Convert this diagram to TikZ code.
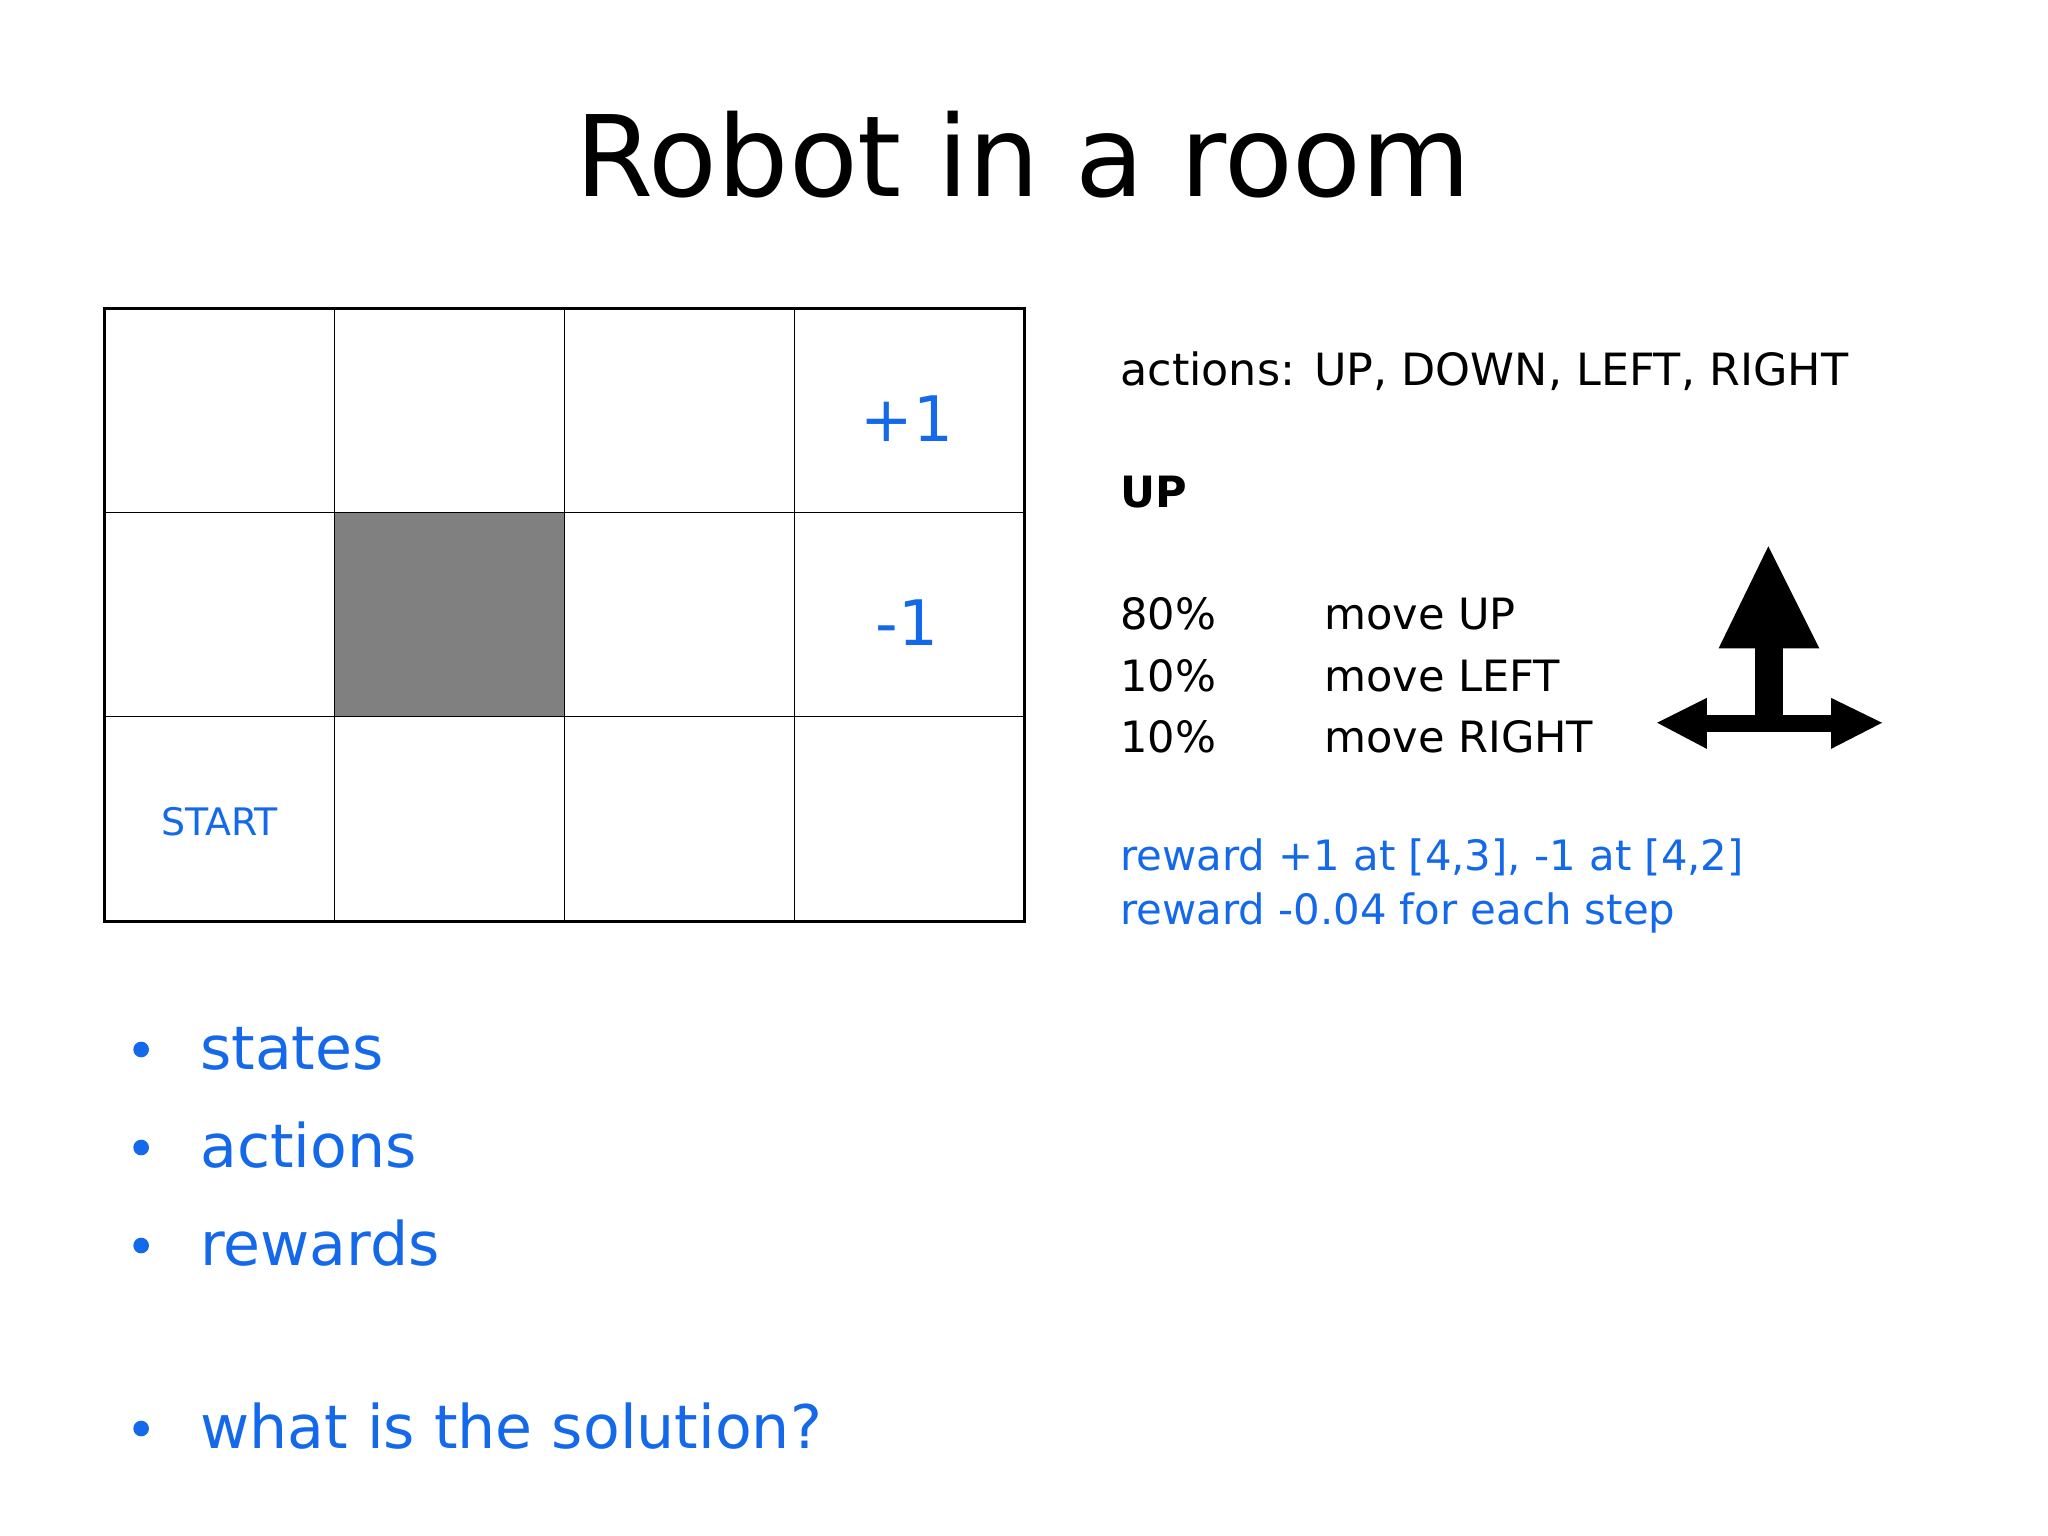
\documentclass[tikz,border=0pt]{standalone}
\usepackage{fontspec}
\setmainfont{DejaVu Sans}
\begin{document}
\begin{tikzpicture}[x=1pt,y=-1pt,
  txt/.style={anchor=base west,inner sep=0pt,font=\fontsize{33}{38}\selectfont},
  bul/.style={anchor=base west,inner sep=0pt,font=\fontsize{46}{52}\selectfont,text=myblue}]
\definecolor{myblue}{RGB}{20,105,235}
\useasboundingbox (0,0) rectangle (1567,1175);
\fill[white] (0,0) rectangle (1567,1175);
\node[anchor=base,inner sep=0pt,font=\fontsize{86}{96}\selectfont] (title) at (783,150) {Robot in a room};
% grid
\fill[black!50] (256,392) rectangle (432,548);
\foreach \x in {256,432,608}{\draw[line width=0.8pt] (\x,236) -- (\x,705);}
\foreach \y in {392,548}{\draw[line width=0.8pt] (80,\y) -- (784,\y);}
\draw[line width=1.8pt] (80,236) rectangle (784,705);
\node[anchor=base,inner sep=0pt,font=\fontsize{48}{56}\selectfont,text=myblue] (p1) at (694,338) {+1};
\node[anchor=base,inner sep=0pt,font=\fontsize{48}{56}\selectfont,text=myblue] (m1) at (694,494) {-1};
\node[anchor=base,inner sep=0pt,font=\fontsize{29}{36}\selectfont,text=myblue] (start) at (168,639) {START};
% right text
\node[txt,font=\fontsize{34}{38}\selectfont] (act) at (857,295) {actions: UP, DOWN, LEFT, RIGHT};
\node[txt,font=\fontsize{33}{40}\bfseries\selectfont] (up) at (857,388) {UP};
\node[txt] (a1) at (857,482) {80\%};
\node[txt] (a2) at (857,529) {10\%};
\node[txt] (a3) at (857,576) {10\%};
\node[txt] (b1) at (1013,482) {move UP};
\node[txt] (b2) at (1013,529) {move LEFT};
\node[txt] (b3) at (1013,576) {move RIGHT};
\node[txt,font=\fontsize{32}{38}\selectfont,text=myblue] (r1) at (857,666) {reward +1 at [4,3], -1 at [4,2]};
\node[txt,font=\fontsize{32}{38}\selectfont,text=myblue] (r2) at (857,707) {reward -0.04 for each step};
% arrows
\fill (1343,495) rectangle (1364,553);
\fill (1315,496) -- (1353,418) -- (1392,496) -- cycle;
\fill (1305,547) rectangle (1402,560);
\fill (1306,534) -- (1268,553) -- (1306,573) -- cycle;
\fill (1401,534) -- (1440,553) -- (1401,573) -- cycle;
% bullets
\foreach \y/\t/\n in {818/states/s1,893/actions/s2,968/rewards/s3,1108/what is the solution?/s4}{
  \fill[myblue] (108,\y-15) circle (6);
  \node[bul] (\n) at (153,\y) {\t};
}
\end{tikzpicture}
\end{document}
